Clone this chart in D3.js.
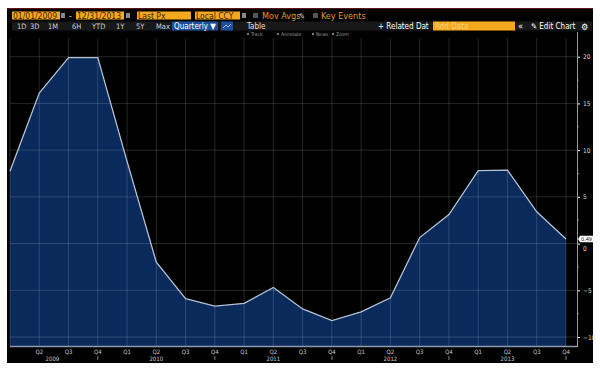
<!DOCTYPE html>
<html>
<head>
<meta charset="utf-8">
<script src="https://cdn.jsdelivr.net/npm/d3@7"></script>
<style>
  body { margin: 0; background: #fff; }
  text { font-family: "DejaVu Sans Condensed", "Liberation Sans Narrow", sans-serif; }
</style>
</head>
<body>
<script>
// Define SVG area dimensions
var svgWidth = 600;
var svgHeight = 372;

// Chart data
var quarterLabels = ["Q1", "Q2", "Q3", "Q4"];
var years = ["2009", "2010", "2011", "2012", "2013"];
var values = [7.75, 16.1, 19.9, 19.9, 8.8, -2.0, -5.9, -6.7, -6.4, -4.7,
              -7.0, -8.25, -7.3, -5.8, 0.64, 3.1, 7.8, 7.85, 3.4, 0.49];
var yTicks = [20, 15, 10, 5, 0, -5, -10];
var lastLabel = "0.49";

// toolbar texts
var rangeButtons = ["1D", "3D", "1M", "6H", "YTD", "1Y", "5Y", "Max"];
var rangeX = [17, 30, 48, 72, 92, 116, 136, 156];
var toolItems = ["Track", "Annotate", "News", "Zoom"];
var toolX = [251, 281, 316, 336];

var svg = d3.select("body")
            .append("svg")
            .attr("width", svgWidth)
            .attr("height", svgHeight);

// black terminal panel
svg.append("rect")
   .attr("x", 7).attr("y", 8)
   .attr("width", 586).attr("height", 355)
   .style("fill", "#000");
svg.append("line")
   .attr("x1", 7).attr("x2", 593).attr("y1", 8.5).attr("y2", 8.5)
   .style("stroke", "#5a1414");

// ---- toolbar row 1
var row1 = svg.append("g");
function orangeBox(x, w, label, color) {
  row1.append("rect").attr("x", x).attr("y", 11.5).attr("width", w).attr("height", 8)
      .style("fill", "#f4a81d");
  row1.append("text").attr("x", x + 1).attr("y", 18.6).text(label)
      .style("font-size", "8.5px").style("fill", color || "#3a2000");
}
function smallIcon(x) {
  row1.append("rect").attr("x", x).attr("y", 13).attr("width", 4).attr("height", 5)
      .style("fill", "#888");
}
orangeBox(12, 48, "01/01/2009");
smallIcon(61);
row1.append("text").attr("x", 69).attr("y", 18.6).text("-")
    .style("font-size", "8.5px").style("fill", "#ddd");
orangeBox(76, 48, "12/31/2013");
smallIcon(126);
orangeBox(137, 54, "Last Px");
orangeBox(195, 45, "Local CCY");
smallIcon(242);
row1.append("rect").attr("x", 253).attr("y", 13).attr("width", 5).attr("height", 5)
    .style("fill", "#555");
row1.append("text").attr("x", 262).attr("y", 18.8).text("Mov Avgs")
    .style("font-size", "9px").style("fill", "#e39a2a");
row1.append("text").attr("x", 299).attr("y", 18.8).text("✎")
    .style("font-size", "8px").style("fill", "#ccc");
row1.append("rect").attr("x", 313).attr("y", 13).attr("width", 5).attr("height", 5)
    .style("fill", "#555");
row1.append("text").attr("x", 321).attr("y", 18.8).text("Key Events")
    .style("font-size", "9px").style("fill", "#e39a2a");

// ---- toolbar row 2
var row2 = svg.append("g");
row2.append("rect").attr("x", 12).attr("y", 21.5).attr("width", 580).attr("height", 9)
    .style("fill", "#181818");
row2.selectAll("text.range")
    .data(rangeButtons)
    .enter()
    .append("text")
    .attr("class", "range")
    .attr("x", function(d, i) { return rangeX[i]; })
    .attr("y", 29)
    .text(function(d) { return d; })
    .style("font-size", "7.5px")
    .style("fill", "#cfcfcf");
row2.append("rect").attr("x", 172).attr("y", 21.5).attr("width", 46).attr("height", 9)
    .style("fill", "#1e4f9c");
row2.append("text").attr("x", 174).attr("y", 29).text("Quarterly ▼")
    .style("font-size", "8px").style("fill", "#fff");
row2.append("rect").attr("x", 221).attr("y", 21.5).attr("width", 12).attr("height", 9)
    .style("fill", "#1e4f9c");
row2.append("path").attr("d", "M223,28 L226,25 L228,27 L231,24")
    .style("fill", "none").style("stroke", "#9cc0ff");
row2.append("text").attr("x", 247).attr("y", 29).text("Table")
    .style("font-size", "8px").style("fill", "#e0e0e0");
row2.append("text").attr("x", 378).attr("y", 29).text("+ Related Dat")
    .style("font-size", "8px").style("fill", "#fff");
row2.append("rect").attr("x", 433).attr("y", 21.5).attr("width", 82).attr("height", 9)
    .style("fill", "#f4a81d");
row2.append("text").attr("x", 435).attr("y", 29).text("Add Data")
    .style("font-size", "8px").style("fill", "#f8cf7a");
row2.append("text").attr("x", 518).attr("y", 29).text("«")
    .style("font-size", "9px").style("fill", "#fff");
row2.append("text").attr("x", 531).attr("y", 29).text("✎ Edit Chart")
    .style("font-size", "8px").style("fill", "#fff");
row2.append("text").attr("x", 581).attr("y", 29.5).text("⚙")
    .style("font-size", "9px").style("fill", "#fff");

// ---- toolbar row 3
svg.selectAll("text.tool")
   .data(toolItems)
   .enter()
   .append("text")
   .attr("class", "tool")
   .attr("x", function(d, i) { return toolX[i]; })
   .attr("y", 35.5)
   .text(function(d) { return d; })
   .style("font-size", "5px")
   .style("fill", "#9a9a9a");
svg.selectAll("circle.toolicon")
   .data(toolX)
   .enter()
   .append("circle")
   .attr("class", "toolicon")
   .attr("cx", function(d) { return d - 3; })
   .attr("cy", 34)
   .attr("r", 1.2)
   .style("fill", "#777");

// ---- chart area
var plot = { left: 10, right: 577, top: 38, bottom: 346 };

var x = d3.scaleLinear()
          .domain([0, values.length - 1])
          .range([10, 566]);

var y = d3.scaleLinear()
          .domain([-10, 20])
          .range([337, 56.7]);

var chartGroup = svg.append("g");

// area
var area = d3.area()
             .x(function(d, i) { return x(i); })
             .y0(plot.bottom)
             .y1(function(d) { return y(d); });

chartGroup.append("path")
          .datum(values)
          .attr("d", area)
          .style("fill", "#0a2a5c");

// gridlines
chartGroup.selectAll("line.vgrid")
          .data(values)
          .enter()
          .append("line")
          .attr("class", "vgrid")
          .attr("x1", function(d, i) { return x(i); })
          .attr("x2", function(d, i) { return x(i); })
          .attr("y1", plot.top)
          .attr("y2", plot.bottom)
          .style("stroke", "rgba(255,255,255,0.15)")
          .style("stroke-width", 1);

chartGroup.selectAll("line.hgrid")
          .data(yTicks)
          .enter()
          .append("line")
          .attr("class", "hgrid")
          .attr("x1", plot.left)
          .attr("x2", plot.right)
          .attr("y1", function(d) { return y(d); })
          .attr("y2", function(d) { return y(d); })
          .style("stroke", "rgba(255,255,255,0.15)")
          .style("stroke-width", 1);

// line
var line = d3.line()
             .x(function(d, i) { return x(i); })
             .y(function(d) { return y(d); });

chartGroup.append("path")
          .datum(values)
          .attr("d", line)
          .style("fill", "none")
          .style("stroke", "#b4c1d3")
          .style("stroke-width", 1.3);

// bottom axis line
chartGroup.append("line")
          .attr("x1", plot.left).attr("x2", plot.right)
          .attr("y1", plot.bottom + 0.5).attr("y2", plot.bottom + 0.5)
          .style("stroke", "#8d9bb0")
          .style("stroke-width", 1.5);

// right axis
var yAxis = d3.axisRight(y)
              .tickValues(yTicks)
              .tickSize(3)
              .tickPadding(3)
              .tickFormat(d3.format("d"));

var yAxisGroup = chartGroup.append("g")
          .attr("transform", "translate(" + plot.right + ",0)")
          .call(yAxis);
yAxisGroup.select(".domain").remove();
yAxisGroup.selectAll(".tick line").style("stroke", "#fff");
yAxisGroup.selectAll(".tick text")
          .style("font-size", "6.5px")
          .style("fill", "#ddd")
          .style("font-family", "'DejaVu Sans Condensed', sans-serif");
// the 0 label sits just under the last-value flag
yAxisGroup.selectAll(".tick text")
          .filter(function(d) { return d === 0; })
          .attr("dy", "1.05em");

// minor ticks
chartGroup.selectAll("line.minor")
          .data(d3.range(-10, 20, 5).map(function(d) { return d + 2.5; }))
          .enter()
          .append("line")
          .attr("class", "minor")
          .attr("x1", plot.right).attr("x2", plot.right + 2)
          .attr("y1", function(d) { return y(d); })
          .attr("y2", function(d) { return y(d); })
          .style("stroke", "#777");

chartGroup.append("line")
          .attr("x1", plot.right + 0.5).attr("x2", plot.right + 0.5)
          .attr("y1", plot.top - 6).attr("y2", plot.bottom + 1)
          .style("stroke", "#9a9a9a");

// last value label
var lastY = y(values[values.length - 1]);
chartGroup.append("path")
          .attr("d", "M" + (plot.right + 1) + "," + lastY +
                     " L" + (plot.right + 3) + "," + (lastY - 3.2) +
                     " L" + (plot.right + 16) + "," + (lastY - 3.2) +
                     " L" + (plot.right + 16) + "," + (lastY + 3.2) +
                     " L" + (plot.right + 3) + "," + (lastY + 3.2) + " Z")
          .style("fill", "#fff");
chartGroup.append("text")
          .attr("x", plot.right + 4)
          .attr("y", lastY + 2)
          .text(lastLabel)
          .style("font-size", "5.5px")
          .style("fill", "#111");

// x axis labels
var quarterData = values.map(function(d, i) {
  return { i: i, q: quarterLabels[i % 4], year: years[Math.floor(i / 4)] };
});

chartGroup.selectAll("text.qlabel")
          .data(quarterData.filter(function(d) { return d.i > 0; }))
          .enter()
          .append("text")
          .attr("class", "qlabel")
          .attr("x", function(d) { return x(d.i); })
          .attr("y", 354)
          .attr("text-anchor", "middle")
          .text(function(d) { return d.q; })
          .style("font-size", "6px")
          .style("fill", "#c8c8c8");

// year labels sit under Q2, the first one a little further right
chartGroup.selectAll("text.ylabel")
          .data(years)
          .enter()
          .append("text")
          .attr("class", "ylabel")
          .attr("x", function(d, i) { return i === 0 ? x(1.45) : x(i * 4 + 1); })
          .attr("y", 360.5)
          .attr("text-anchor", "middle")
          .text(function(d) { return d; })
          .style("font-size", "6px")
          .style("fill", "#c8c8c8");

// year separators under Q4
chartGroup.selectAll("line.sep")
          .data(quarterData.filter(function(d) { return d.q === "Q4"; }))
          .enter()
          .append("line")
          .attr("class", "sep")
          .attr("x1", function(d) { return x(d.i); })
          .attr("x2", function(d) { return x(d.i); })
          .attr("y1", 356)
          .attr("y2", 360)
          .style("stroke", "#bbb")
          .style("stroke-width", 0.7);
</script>
</body>
</html>
